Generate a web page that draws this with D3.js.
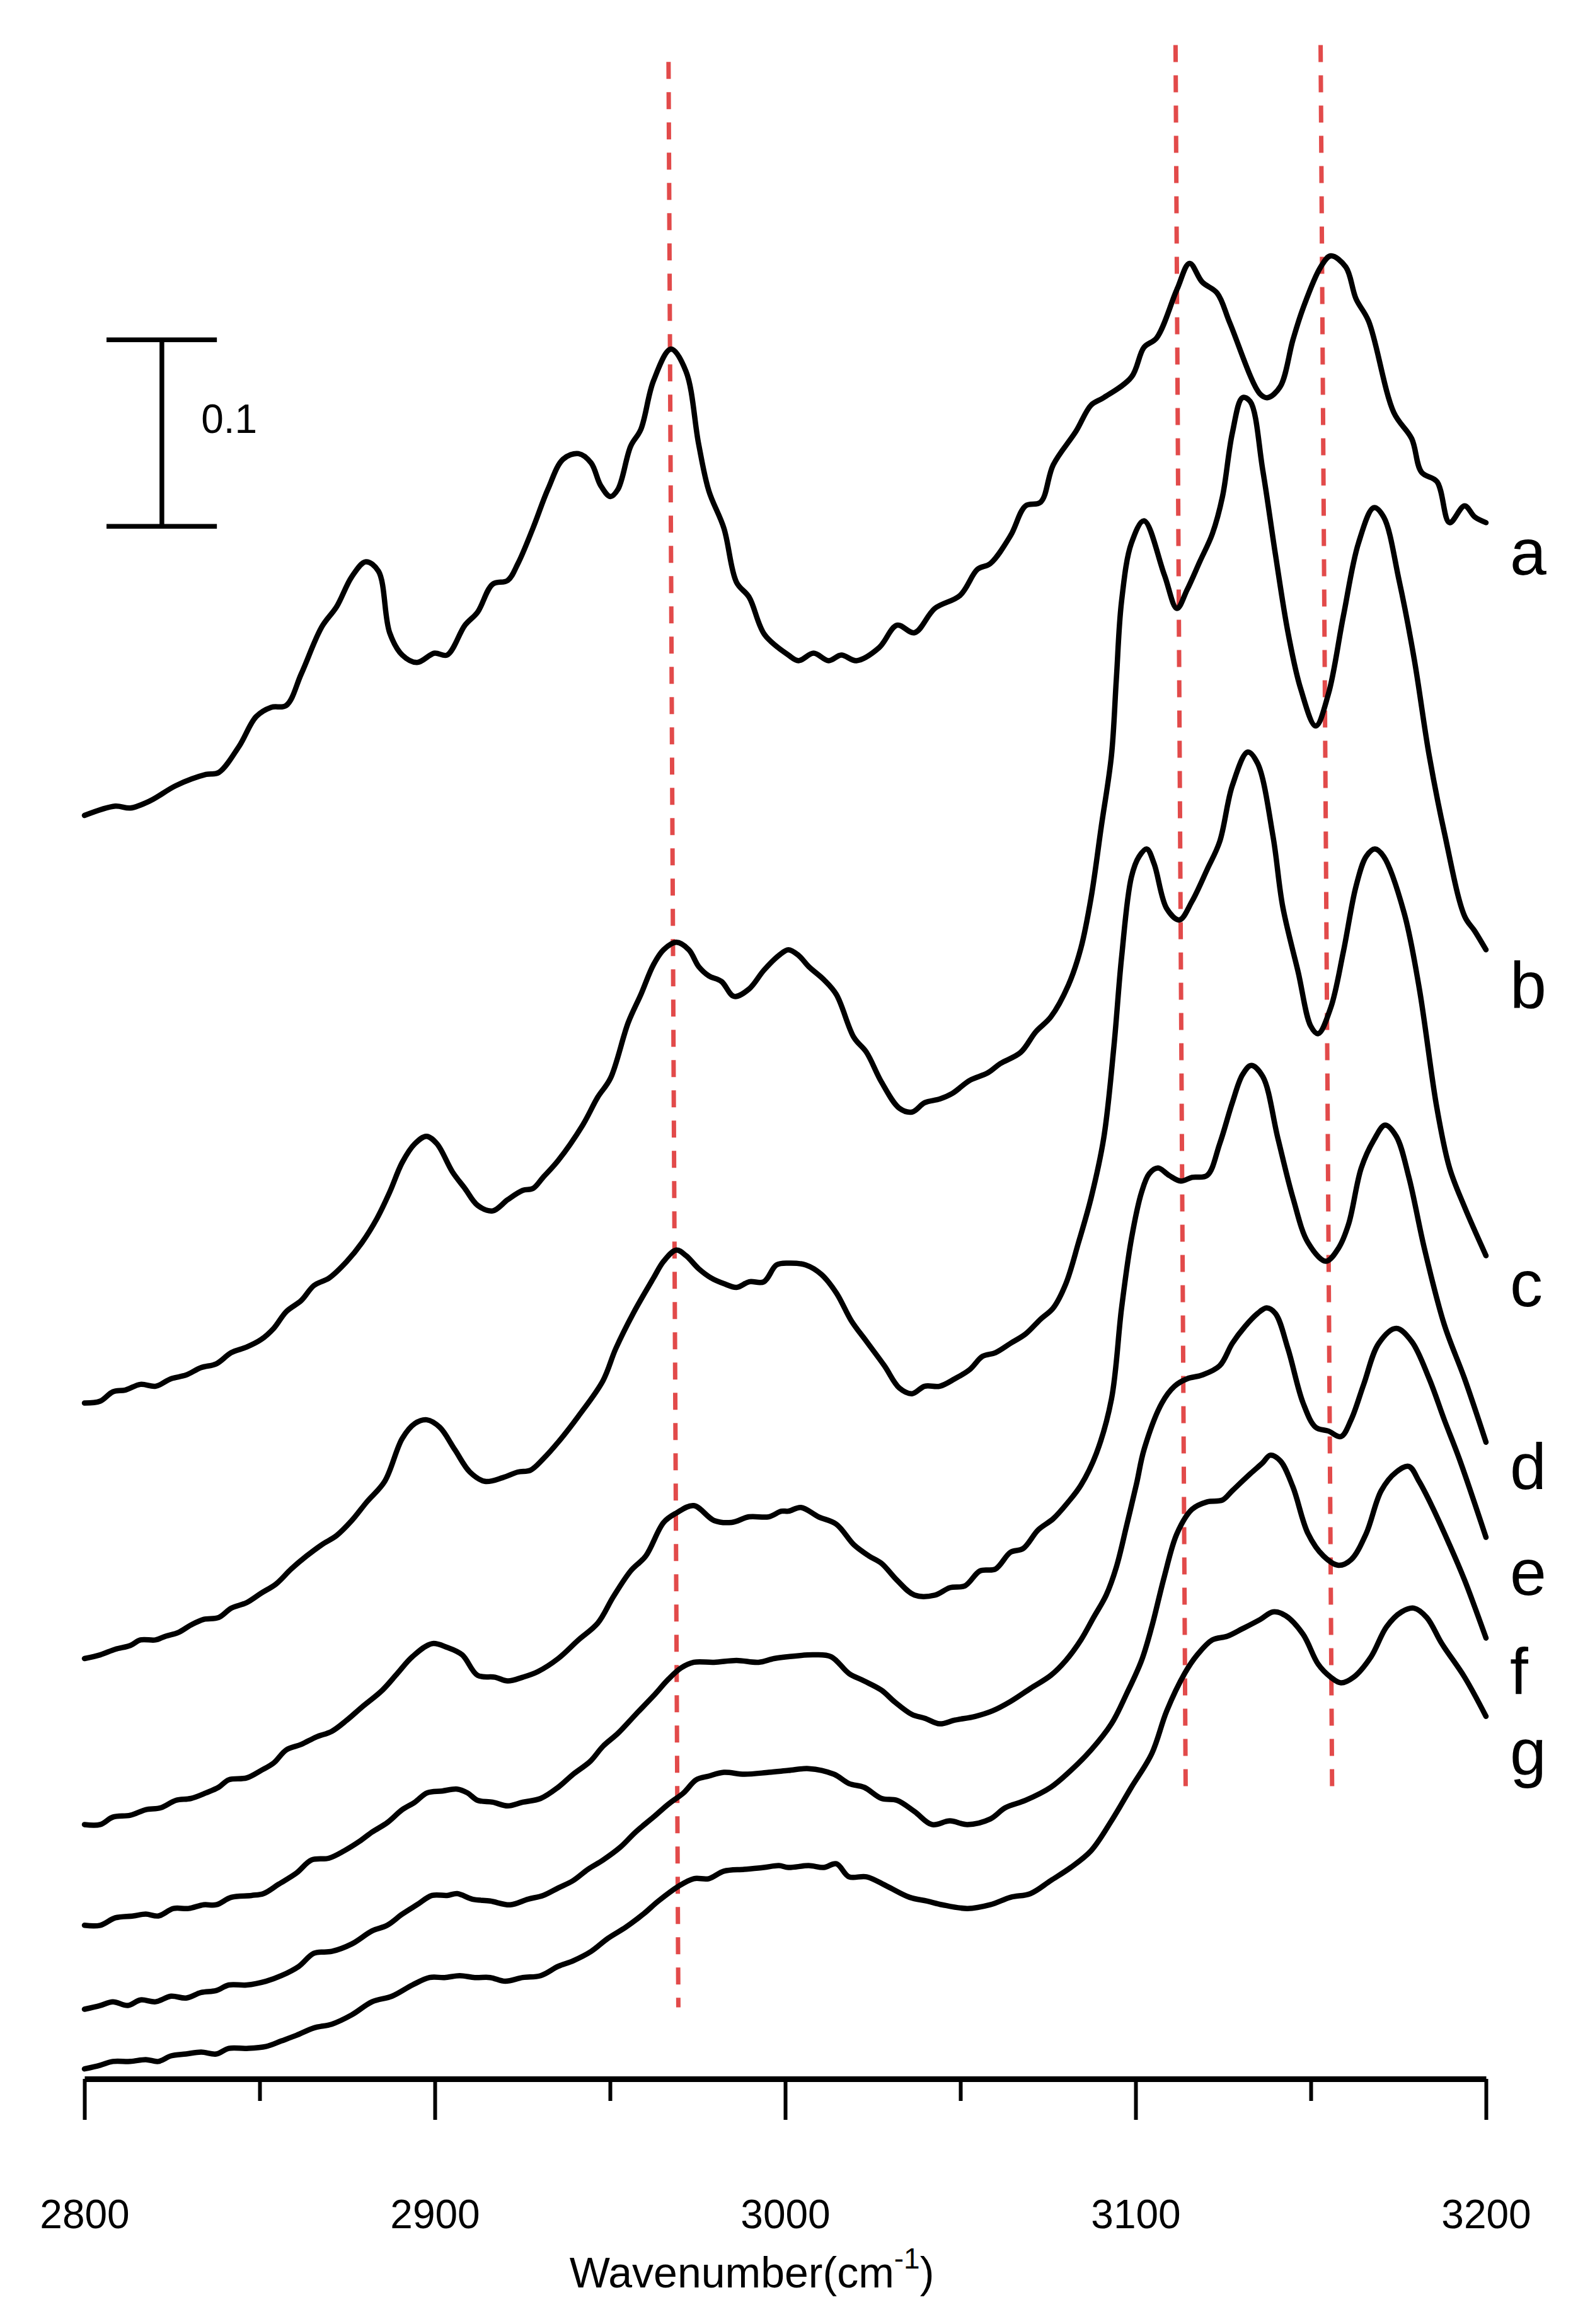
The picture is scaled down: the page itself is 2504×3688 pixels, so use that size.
<!DOCTYPE html>
<html lang="en">
<head>
<meta charset="UTF-8">
<title>FTIR spectra a-g</title>
<script src="https://d3js.org/d3.v7.min.js"></script>
<style>
  body { margin: 0; background: #ffffff; }
  text { font-family: Arial, 'Liberation Sans', sans-serif; fill: #000000; }
</style>
</head>
<body>
<svg id="chart" width="2504" height="3688" xmlns="http://www.w3.org/2000/svg"></svg>
<script>

// tick values on the wavenumber axis
const majorTicks = [2800, 2900, 3000, 3100, 3200];
const minorTicks = [2850, 2950, 3050, 3150];

// stacked absorbance, [wavenumber, absorbance]
const spectrumA = [[2800,0.677],[2808.8,0.682],[2813.1,0.681],[2818.9,0.685],[2826.1,0.693],[2834.7,0.699],[2838.3,0.700],[2844.1,0.714],[2849.0,0.730],[2853.3,0.735],[2857.6,0.736],[2861.9,0.753],[2867.7,0.778],[2872.0,0.789],[2876.3,0.805],[2880.3,0.813],[2883.9,0.808],[2887.1,0.775],[2890.7,0.763],[2894.9,0.759],[2899.9,0.764],[2903.5,0.763],[2908.6,0.779],[2912.2,0.786],[2916.5,0.801],[2920.8,0.803],[2923.7,0.812],[2928.0,0.831],[2932.3,0.852],[2936.6,0.868],[2941.0,0.871],[2944.6,0.866],[2947.3,0.854],[2950.1,0.848],[2952.3,0.852],[2955.9,0.875],[2958.8,0.884],[2962.4,0.910],[2967.4,0.927],[2971.7,0.915],[2975.3,0.876],[2978.2,0.851],[2982.5,0.831],[2986.1,0.802],[2989.7,0.794],[2994.1,0.774],[3000.9,0.763],[3003.8,0.760],[3008.1,0.764],[3012.4,0.760],[3016.0,0.763],[3020.3,0.760],[3026.8,0.767],[3031.9,0.779],[3036.9,0.775],[3042.7,0.788],[3049.9,0.795],[3054.9,0.809],[3058.5,0.812],[3064.3,0.827],[3068.6,0.843],[3072.9,0.845],[3076.5,0.865],[3083.0,0.883],[3087.3,0.897],[3090.9,0.901],[3098.8,0.912],[3102.4,0.928],[3106.0,0.933],[3111.8,0.959],[3115.4,0.973],[3119.0,0.963],[3123.3,0.957],[3126.9,0.941],[3135.5,0.903],[3137.7,0.901],[3141.3,0.907],[3144.9,0.932],[3147.8,0.949],[3152.8,0.971],[3155.7,0.977],[3160.0,0.971],[3162.9,0.954],[3166.5,0.942],[3173.7,0.893],[3178.8,0.879],[3181.6,0.861],[3186.0,0.856],[3189.6,0.834],[3193.9,0.843],[3196.8,0.837],[3200,0.834]];

const spectrumB = [[2800,0.362],[2804.5,0.363],[2808.1,0.368],[2811.7,0.369],[2816.0,0.372],[2820.3,0.371],[2824.7,0.375],[2829.0,0.377],[2833.3,0.381],[2837.6,0.383],[2841.9,0.389],[2846.3,0.392],[2850.4,0.396],[2854.0,0.402],[2857.6,0.411],[2861.9,0.417],[2865.5,0.425],[2869.8,0.429],[2874.9,0.438],[2879.2,0.448],[2883.5,0.461],[2887.1,0.475],[2890.7,0.491],[2894.3,0.501],[2897.6,0.505],[2900.6,0.501],[2905.0,0.486],[2908.6,0.477],[2912.2,0.468],[2916.5,0.465],[2920.8,0.471],[2925.1,0.476],[2928.0,0.477],[2930.9,0.483],[2935.2,0.492],[2942.2,0.511],[2946.5,0.526],[2950.1,0.536],[2955.2,0.566],[2958.8,0.581],[2962.4,0.597],[2965.3,0.605],[2968.9,0.609],[2972.5,0.605],[2975.3,0.596],[2978.2,0.591],[2981.8,0.588],[2985.4,0.580],[2989.7,0.584],[2993.9,0.594],[2998.2,0.602],[3000.9,0.605],[3003.8,0.602],[3006.7,0.596],[3011.0,0.589],[3014.6,0.581],[3019.6,0.558],[3023.2,0.550],[3027.5,0.534],[3032.6,0.520],[3036.2,0.518],[3039.8,0.523],[3044.1,0.525],[3047.7,0.528],[3052.7,0.535],[3057.8,0.539],[3061.4,0.544],[3067.2,0.550],[3071.5,0.561],[3075.8,0.569],[3080.8,0.586],[3084.4,0.606],[3087.3,0.633],[3090.2,0.671],[3093.1,0.709],[3094.5,0.750],[3096.0,0.792],[3098.8,0.823],[3102.4,0.835],[3108.2,0.806],[3111.8,0.788],[3114.7,0.798],[3118.3,0.813],[3121.9,0.828],[3124.8,0.848],[3127.6,0.882],[3130.5,0.901],[3132.7,0.899],[3136.3,0.862],[3139.9,0.817],[3143.5,0.775],[3147.1,0.745],[3151.4,0.725],[3155.0,0.742],[3159.3,0.784],[3163.6,0.823],[3168.0,0.842],[3170.8,0.837],[3175.2,0.803],[3179.5,0.761],[3183.8,0.709],[3188.1,0.668],[3193.9,0.623],[3196.8,0.615],[3200,0.605]];

const spectrumC = [[2800,0.225],[2804.5,0.227],[2808.8,0.230],[2813.1,0.232],[2816.0,0.235],[2820.3,0.235],[2823.2,0.237],[2826.8,0.239],[2830.4,0.243],[2834.0,0.246],[2838.3,0.247],[2841.9,0.252],[2846.3,0.255],[2850.4,0.260],[2854.7,0.265],[2859.0,0.273],[2863.4,0.280],[2867.7,0.286],[2872.0,0.291],[2876.3,0.299],[2880.6,0.309],[2885.7,0.320],[2890.7,0.343],[2894.3,0.351],[2897.7,0.353],[2901.4,0.349],[2905.7,0.337],[2910.0,0.325],[2914.3,0.320],[2919.4,0.322],[2923.7,0.325],[2927.3,0.326],[2930.9,0.332],[2935.2,0.341],[2941.0,0.355],[2948.0,0.374],[2951.6,0.391],[2956.6,0.410],[2962.4,0.429],[2965.3,0.438],[2968.9,0.444],[2971.7,0.441],[2975.3,0.434],[2978.9,0.429],[2982.5,0.426],[2986.1,0.424],[2989.7,0.427],[2993.9,0.427],[2997.5,0.436],[3000.9,0.437],[3005.9,0.436],[3010.3,0.431],[3014.6,0.421],[3018.9,0.406],[3023.2,0.395],[3028.3,0.382],[3032.6,0.370],[3036.2,0.367],[3039.8,0.371],[3044.1,0.371],[3048.4,0.375],[3052.7,0.380],[3056.3,0.387],[3060.0,0.389],[3064.3,0.394],[3068.6,0.399],[3072.9,0.407],[3076.5,0.413],[3080.1,0.426],[3083.7,0.448],[3087.3,0.472],[3090.9,0.504],[3093.8,0.553],[3096.0,0.601],[3098.8,0.644],[3101.0,0.655],[3103.2,0.659],[3105.3,0.651],[3108.9,0.627],[3112.5,0.621],[3116.1,0.631],[3120.4,0.648],[3124.0,0.663],[3127.6,0.693],[3132.0,0.711],[3134.8,0.705],[3139.2,0.666],[3142.0,0.628],[3146.4,0.593],[3150.0,0.564],[3152.1,0.560],[3155.7,0.574],[3159.3,0.604],[3162.9,0.639],[3165.8,0.655],[3168.3,0.659],[3170.8,0.655],[3176.6,0.625],[3180.9,0.585],[3186.0,0.520],[3189.6,0.488],[3193.9,0.467],[3200,0.441]];

const spectrumD = [[2800,0.136],[2804.5,0.136],[2808.1,0.140],[2813.1,0.141],[2817.5,0.144],[2821.8,0.145],[2826.1,0.149],[2830.4,0.150],[2834.7,0.153],[2838.3,0.156],[2841.2,0.160],[2846.3,0.161],[2850.4,0.165],[2854.0,0.169],[2857.6,0.176],[2861.9,0.179],[2866.2,0.183],[2870.6,0.186],[2874.9,0.192],[2879.2,0.199],[2885.0,0.208],[2889.3,0.217],[2893.6,0.226],[2899.2,0.233],[2903.5,0.231],[2907.8,0.227],[2912.2,0.216],[2917.2,0.215],[2920.8,0.213],[2925.1,0.215],[2929.4,0.218],[2935.2,0.225],[2941.0,0.235],[2946.5,0.244],[2950.9,0.258],[2955.9,0.272],[2960.2,0.280],[2965.3,0.298],[2968.9,0.303],[2973.9,0.307],[2979.7,0.299],[2984.7,0.298],[2989.7,0.301],[2995.3,0.301],[2998.9,0.304],[3000.9,0.304],[3004.5,0.306],[3009.5,0.301],[3014.6,0.297],[3019.6,0.286],[3023.9,0.280],[3027.5,0.276],[3031.9,0.267],[3036.9,0.259],[3042.7,0.259],[3047.0,0.263],[3051.3,0.264],[3055.6,0.272],[3060.0,0.273],[3064.3,0.282],[3067.9,0.284],[3072.2,0.294],[3076.5,0.300],[3080.8,0.309],[3084.4,0.318],[3088.8,0.335],[3093.1,0.364],[3096.0,0.413],[3098.8,0.450],[3101.7,0.475],[3103.9,0.485],[3106.4,0.488],[3109.6,0.484],[3112.9,0.481],[3116.1,0.483],[3120.4,0.484],[3124.0,0.501],[3127.6,0.523],[3130.5,0.538],[3133.0,0.543],[3136.3,0.537],[3140.6,0.504],[3144.9,0.472],[3149.2,0.448],[3154.3,0.438],[3157.9,0.445],[3160.8,0.458],[3164.4,0.488],[3168.0,0.503],[3171.2,0.511],[3174.4,0.505],[3178.0,0.483],[3182.4,0.445],[3188.1,0.404],[3193.9,0.375],[3200,0.341]];

const spectrumE = [[2800,0.082],[2804.5,0.082],[2808.8,0.086],[2813.9,0.087],[2817.5,0.088],[2821.1,0.087],[2825.4,0.091],[2829.7,0.091],[2834.0,0.093],[2837.6,0.093],[2841.9,0.097],[2847.7,0.098],[2851.1,0.099],[2855.4,0.104],[2860.5,0.110],[2864.8,0.117],[2869.8,0.118],[2874.2,0.122],[2878.5,0.127],[2882.1,0.132],[2886.4,0.137],[2890.7,0.144],[2894.3,0.148],[2897.8,0.153],[2902.1,0.154],[2906.4,0.155],[2909.3,0.153],[2912.2,0.149],[2916.5,0.148],[2920.8,0.146],[2925.1,0.148],[2930.2,0.150],[2935.2,0.156],[2939.5,0.163],[2944.4,0.170],[2948.0,0.178],[2952.3,0.185],[2957.3,0.195],[2962.4,0.205],[2966.7,0.214],[2970.3,0.220],[2973.9,0.223],[2979.7,0.223],[2986.1,0.224],[2992.4,0.223],[2996.8,0.225],[3000.9,0.226],[3008.1,0.227],[3013.1,0.226],[3018.2,0.217],[3022.5,0.213],[3027.5,0.208],[3031.1,0.202],[3036.2,0.195],[3039.8,0.193],[3044.1,0.190],[3048.4,0.192],[3054.2,0.194],[3059.2,0.197],[3064.3,0.202],[3070.0,0.209],[3075.8,0.216],[3080.1,0.224],[3084.4,0.235],[3088.0,0.247],[3091.6,0.259],[3094.5,0.274],[3097.4,0.296],[3100.3,0.319],[3102.4,0.337],[3107.5,0.362],[3111.1,0.371],[3114.7,0.375],[3119.0,0.377],[3124.0,0.382],[3127.6,0.394],[3131.2,0.403],[3134.8,0.410],[3137.4,0.413],[3139.9,0.410],[3143.5,0.391],[3147.8,0.362],[3151.4,0.349],[3155.0,0.347],[3158.6,0.344],[3161.5,0.353],[3165.1,0.372],[3169.4,0.394],[3174.4,0.402],[3178.8,0.395],[3183.8,0.375],[3188.1,0.353],[3192.4,0.332],[3200,0.290]];

const spectrumF = [[2800,0.037],[2804.5,0.039],[2808.1,0.041],[2812.4,0.039],[2816.0,0.042],[2820.3,0.041],[2824.7,0.044],[2829.0,0.043],[2833.3,0.046],[2837.6,0.047],[2841.2,0.050],[2846.3,0.050],[2851.8,0.052],[2856.2,0.055],[2861.2,0.060],[2865.5,0.067],[2870.6,0.068],[2876.3,0.072],[2882.1,0.079],[2886.4,0.082],[2890.7,0.088],[2894.9,0.093],[2899.2,0.098],[2903.5,0.098],[2906.4,0.099],[2910.7,0.096],[2915.8,0.095],[2921.5,0.093],[2926.6,0.096],[2930.9,0.098],[2935.2,0.102],[2939.5,0.106],[2943.7,0.112],[2948.0,0.117],[2953.0,0.124],[2957.3,0.132],[2962.4,0.140],[2966.7,0.147],[2971.0,0.153],[2974.6,0.160],[2978.2,0.162],[2982.5,0.164],[2988.3,0.163],[2995.3,0.164],[3000.9,0.165],[3006.7,0.166],[3013.9,0.163],[3018.2,0.158],[3022.5,0.156],[3027.5,0.150],[3031.9,0.149],[3036.9,0.143],[3041.9,0.136],[3047.0,0.138],[3052.0,0.136],[3058.5,0.139],[3062.8,0.145],[3068.6,0.149],[3075.8,0.156],[3081.5,0.165],[3087.3,0.176],[3093.1,0.190],[3097.4,0.206],[3101.7,0.224],[3104.6,0.242],[3108.2,0.269],[3111.8,0.292],[3116.1,0.305],[3120.4,0.309],[3124.8,0.310],[3127.6,0.315],[3132.7,0.324],[3136.3,0.330],[3138.4,0.334],[3141.3,0.331],[3144.9,0.317],[3149.2,0.292],[3153.6,0.280],[3157.9,0.275],[3161.5,0.278],[3165.8,0.292],[3170.1,0.315],[3174.4,0.325],[3178.0,0.328],[3180.9,0.320],[3184.5,0.307],[3189.6,0.286],[3193.9,0.267],[3200,0.236]];

const spectrumG = [[2800,0.005],[2804.5,0.007],[2808.1,0.009],[2813.1,0.009],[2817.5,0.010],[2821.1,0.009],[2824.7,0.012],[2829.0,0.013],[2833.3,0.014],[2837.6,0.013],[2841.2,0.016],[2846.3,0.016],[2851.8,0.017],[2856.2,0.020],[2860.5,0.023],[2865.5,0.027],[2870.6,0.029],[2876.3,0.034],[2882.1,0.041],[2887.8,0.044],[2893.6,0.050],[2898.5,0.054],[2902.8,0.054],[2907.1,0.055],[2911.4,0.054],[2915.8,0.054],[2920.1,0.052],[2925.1,0.054],[2930.2,0.055],[2935.2,0.060],[2939.5,0.063],[2944.6,0.068],[2949.4,0.075],[2954.5,0.081],[2959.5,0.088],[2963.8,0.095],[2969.6,0.103],[2973.9,0.107],[2978.2,0.107],[2982.5,0.111],[2988.3,0.112],[2993.9,0.113],[2998.2,0.114],[3000.9,0.113],[3006.7,0.114],[3011.0,0.113],[3014.6,0.115],[3018.2,0.108],[3023.2,0.108],[3029.0,0.103],[3035.5,0.097],[3040.5,0.095],[3044.8,0.093],[3052.0,0.091],[3058.5,0.093],[3064.3,0.097],[3070.0,0.099],[3075.8,0.106],[3081.5,0.113],[3087.3,0.122],[3093.1,0.138],[3098.8,0.156],[3104.6,0.174],[3108.9,0.197],[3114.0,0.217],[3117.6,0.227],[3121.9,0.235],[3126.2,0.237],[3130.5,0.241],[3135.6,0.246],[3139.2,0.250],[3142.8,0.248],[3147.8,0.238],[3152.1,0.222],[3155.7,0.215],[3158.6,0.212],[3162.2,0.215],[3167.2,0.226],[3171.6,0.242],[3175.9,0.250],[3179.5,0.252],[3183.1,0.247],[3187.4,0.233],[3193.9,0.215],[3200,0.194]];

const spectra = [spectrumA, spectrumB, spectrumC, spectrumD, spectrumE, spectrumF, spectrumG];
const spectrumNames = ['a', 'b', 'c', 'd', 'e', 'f', 'g'];
const nameLevels = [0.806, 0.574, 0.414, 0.316, 0.259, 0.206, 0.163];

// red guide lines, slightly tilted in the original
const guideTopWn = [2966.7, 3111.4, 3152.8];
const guideBottomWn = [2969.5, 3114.3, 3156.1];
const guideTopAbs = [1.081, 1.090, 1.090];
const guideBottomAbs = [0.038, 0.150, 0.150];

// 0.1 absorbance scale bar
const scaleBarWn = 2822.1;
const scaleBarCapWn = [2806.3, 2837.8];
const scaleBarAbs = [0.832, 0.932];
const scaleBarText = '0.1';

let svg = d3.select('#chart');

let x = d3.scaleLinear().domain([2800, 3200]).range([134, 2358]);
let y = d3.scaleLinear().domain([0, 1.1]).range([3298, 42]);

let line = d3.line()
    .x(function(d) { return x(d[0]); })
    .y(function(d) { return y(d[1]); })
    .curve(d3.curveCatmullRom.alpha(0.5));

// guide lines go under the spectra
svg.append('g').selectAll('line')
    .data(guideTopWn)
    .enter().append('line')
    .attr('x1', function(d) { return x(d); })
    .attr('x2', function(d, i) { return x(guideBottomWn[i]); })
    .attr('y1', function(d, i) { return y(guideTopAbs[i]); })
    .attr('y2', function(d, i) { return y(guideBottomAbs[i]); })
    .style('stroke', '#e24a4a')
    .style('stroke-width', 7)
    .style('stroke-dasharray', '27,21');

svg.append('g').selectAll('path')
    .data(spectra)
    .enter().append('path')
    .attr('d', line)
    .style('fill', 'none')
    .style('stroke', '#000000')
    .style('stroke-width', 8.5)
    .style('stroke-linejoin', 'round')
    .style('stroke-linecap', 'round');

svg.append('g').selectAll('text')
    .data(spectrumNames)
    .enter().append('text')
    .attr('x', x(3200) + 38)
    .attr('y', function(d, i) { return y(nameLevels[i]); })
    .style('font-size', '104px')
    .text(function(d) { return d; });

// scale bar
let bar = svg.append('g').style('stroke', '#000000').style('stroke-width', 7.5);
bar.append('line')
    .attr('x1', x(scaleBarWn)).attr('x2', x(scaleBarWn))
    .attr('y1', y(scaleBarAbs[0])).attr('y2', y(scaleBarAbs[1]));
bar.selectAll('line.cap')
    .data(scaleBarAbs)
    .enter().append('line')
    .attr('class', 'cap')
    .attr('x1', x(scaleBarCapWn[0])).attr('x2', x(scaleBarCapWn[1]))
    .attr('y1', function(d) { return y(d); })
    .attr('y2', function(d) { return y(d); });
svg.append('text')
    .attr('x', x(scaleBarCapWn[1]) - 25)
    .attr('y', y((scaleBarAbs[0] + scaleBarAbs[1]) / 2))
    .style('font-size', '64px')
    .text(scaleBarText);

// x axis
let axisMajor = d3.axisBottom(x)
    .tickValues(majorTicks)
    .tickSize(65)
    .tickSizeOuter(0)
    .tickPadding(127)
    .tickFormat(d3.format('d'));

let gx = svg.append('g')
    .attr('transform', 'translate(0,3299)')
    .call(axisMajor);
gx.select('.domain').style('stroke-width', 9).style('stroke', '#000000');
gx.selectAll('.tick line').style('stroke-width', 6).style('stroke', '#000000');
gx.selectAll('.tick text')
    .style('font-size', '64px')
    .style('font-family', "Arial, 'Liberation Sans', sans-serif")
    .style('fill', '#000000');

let gMinor = svg.append('g')
    .attr('transform', 'translate(0,3299)')
    .call(d3.axisBottom(x).tickValues(minorTicks).tickSize(35).tickSizeOuter(0).tickFormat(''));
gMinor.select('.domain').remove();
gMinor.selectAll('.tick line').style('stroke-width', 6).style('stroke', '#000000');

let title = svg.append('text')
    .attr('x', 1193)
    .attr('y', 3630)
    .attr('text-anchor', 'middle')
    .style('font-size', '68px');
title.append('tspan').text('Wavenumber(cm');
title.append('tspan').attr('dy', -30).style('font-size', '46px').text('-1');
title.append('tspan').attr('dy', 30).text(')');

</script>
</body>
</html>
